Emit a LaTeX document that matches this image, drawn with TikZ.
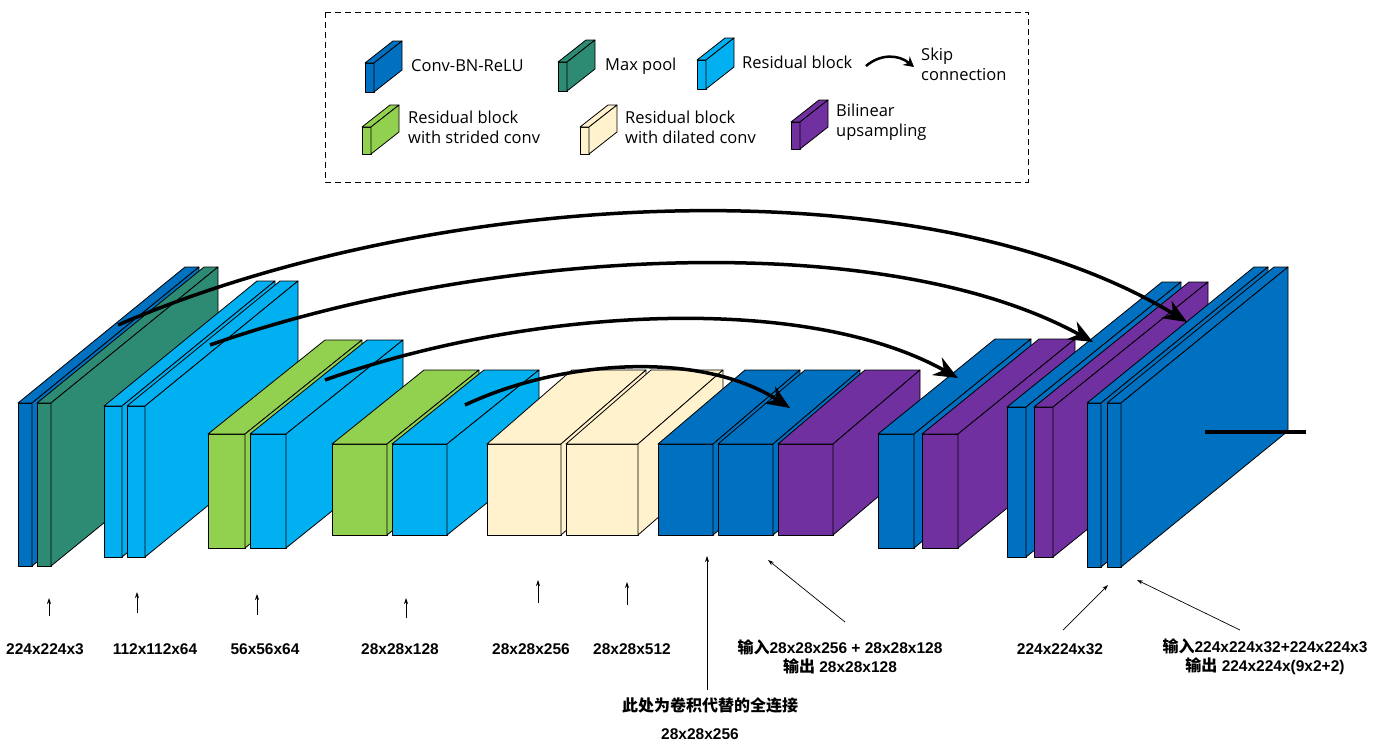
\documentclass[tikz,border=0pt]{standalone}
\usepackage{fontspec}
\setmainfont{Open Sans}
\newfontfamily\cjk{Noto Sans CJK SC}
\newfontfamily\arl{Liberation Sans}
\usetikzlibrary{arrows.meta}
\definecolor{cbr}{HTML}{0070C0}
\definecolor{mxp}{HTML}{2E8B73}
\definecolor{res}{HTML}{00B0F0}
\definecolor{str}{HTML}{92D050}
\definecolor{dil}{HTML}{FFF2CC}
\definecolor{bil}{HTML}{7030A0}
\newcommand{\mycub}[7]{%
 \filldraw[fill=#7,draw=black,line width=0.8pt,line join=round] (#1,#2) rectangle ++(#3,#4);
 \filldraw[fill=#7,draw=black,line width=0.8pt,line join=round] (#1,#2) -- ++(#5,#6) -- ++(#3,0) -- ++(-#5,-#6) -- cycle;
 \filldraw[fill=#7,draw=black,line width=0.8pt,line join=round] (#1+#3,#2) -- ++(#5,#6) -- ++(0,#4) -- ++(-#5,-#6) -- cycle;}
\newcommand{\zh}[1]{{\cjk\bfseries\fontsize{16}{19}\selectfont #1}}
\tikzset{skip/.style={line width=3.5pt,-{Stealth[length=24pt,width=20pt]}},
 lab/.style={font=\arl\bfseries\fontsize{15.5}{19}\selectfont,align=center},
 leg/.style={font=\fontsize{16.5}{20}\selectfont,anchor=west,align=left,inner sep=0pt},
 pt/.style={-{Stealth[length=6pt,width=4pt]},line width=0.7pt}}
\begin{document}
\begin{tikzpicture}[x=1pt,y=-1pt]
\useasboundingbox (0,0) rectangle (1397,745);
% legend
\draw[line width=0.8pt,dash pattern=on 6pt off 4pt] (325,12) rectangle (1028,182);
\mycub{365}{63}{9}{29}{28}{-22}{cbr}
\mycub{558}{62}{9}{29}{28}{-22}{mxp}
\mycub{697}{60}{9}{29}{28}{-22}{res}
\mycub{362}{127}{9}{27}{28}{-22}{str}
\mycub{580}{127}{9}{27}{28}{-22}{dil}
\mycub{791}{122}{9}{27}{28}{-22}{bil}
\node[leg] (l1) at (411,66) {Conv-BN-ReLU};
\node[leg] (l2) at (605,66) {Max pool};
\node[leg] (l3) at (742,62) {Residual block};
\coordinate (s1) at (866,66); \coordinate (s2) at (914,67);
\draw[line width=2.5pt,-{Stealth[length=10pt,width=11pt]}] (s1) .. controls (880,54) and (898,54) .. (s2);
\node[leg] (l4) at (921,64) {Skip\\connection};
\node[leg] (l5) at (408,127) {Residual block\\with strided conv};
\node[leg] (l6) at (625,127) {Residual block\\with dilated conv};
\node[leg] (l7) at (836,122) {Bilinear\\upsampling};
% blocks
\mycub{18}{403}{14}{163}{167}{-136}{cbr}
\mycub{37}{403}{14}{163}{167}{-136}{mxp}
\mycub{104}{406}{18}{151}{153}{-125}{res}
\mycub{127}{406}{18}{151}{153}{-125}{res}
\mycub{208}{434}{37}{114}{117}{-94}{str}
\mycub{250}{434}{36}{114}{117}{-94}{res}
\mycub{332}{444}{55}{91}{92}{-74}{str}
\mycub{392}{444}{55}{91}{92}{-74}{res}
\mycub{487}{444}{74}{91}{85}{-74}{dil}
\mycub{566}{444}{72}{91}{85}{-74}{dil}
\mycub{658}{444}{55}{91}{87}{-74}{cbr}
\mycub{718}{444}{55}{91}{87}{-74}{cbr}
\mycub{778}{444}{55}{91}{87}{-74}{bil}
\mycub{878}{434}{36}{114}{117}{-95}{cbr}
\mycub{922}{434}{36}{114}{117}{-95}{bil}
\mycub{1007}{407}{19}{150}{155}{-125}{cbr}
\mycub{1034}{407}{19}{150}{155}{-125}{bil}
\mycub{1087}{403}{14}{164}{167}{-136}{cbr}
\mycub{1107}{403}{14}{164}{167}{-136}{cbr}
% output line
\coordinate (o1) at (1205,432); \coordinate (o2) at (1306,432);
\draw[line width=3.5pt] (o1) -- (o2);
% skip connections
\coordinate (a1s) at (118,325); \coordinate (a1e) at (1187,322);
\coordinate (a2s) at (210,345); \coordinate (a2e) at (1093,342);
\coordinate (a3s) at (325,380); \coordinate (a3e) at (958,378);
\coordinate (a4s) at (465,405); \coordinate (a4e) at (790,408);
\draw[skip] (a1s) .. controls (430,190) and (920,160) .. (a1e);
\draw[skip] (a2s) .. controls (480,250) and (880,225) .. (a2e);
\draw[skip] (a3s) .. controls (520,310) and (800,290) .. (a3e);
\draw[skip] (a4s) .. controls (560,360) and (700,350) .. (a4e);
% labels
\node[lab] (t1) at (45,649) {224x224x3};
\node[lab] (t2) at (155,649) {112x112x64};
\node[lab] (t3) at (265,649) {56x56x64};
\node[lab] (t4) at (400,649) {28x28x128};
\node[lab] (t5) at (531,649) {28x28x256};
\node[lab] (t6) at (632,649) {28x28x512};
\node[lab] (t7) at (840,657) {\zh{输入}28x28x256 + 28x28x128\\\zh{输出} 28x28x128};
\node[lab] (t8) at (710,705) {\zh{此处为卷积代替的全连接}};
\node[lab] (t9) at (700,734) {28x28x256};
\node[lab] (t10) at (1060,649) {224x224x32};
\node[lab] (t11) at (1265,657) {\zh{输入}224x224x32+224x224x3\\\zh{输出} 224x224x(9x2+2)};
\coordinate (b1) at (49,598); \draw[pt] (49,616) -- (b1);
\coordinate (b2) at (137,592); \draw[pt] (137,613) -- (b2);
\coordinate (b3) at (257,594); \draw[pt] (257,615) -- (b3);
\coordinate (b4) at (406,598); \draw[pt] (406,618) -- (b4);
\coordinate (b5) at (538,580); \draw[pt] (538,603) -- (b5);
\coordinate (b6) at (627,582); \draw[pt] (627,605) -- (b6);
\coordinate (b7) at (768,560); \draw[pt] (845,622) -- (b7);
\coordinate (b8) at (707,556); \draw[pt] (707,690) -- (b8);
\coordinate (b9) at (1108,585); \draw[pt] (1063,630) -- (b9);
\coordinate (b10) at (1137,580); \draw[pt] (1240,630) -- (b10);
\end{tikzpicture}
\end{document}
